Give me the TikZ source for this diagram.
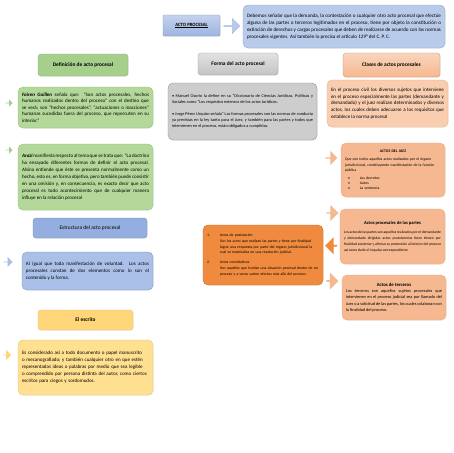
\documentclass[tikz,border=0pt]{standalone}
\usepackage{fontspec}
\setmainfont{Carlito}
\usepackage{tikz}
\usetikzlibrary{calc,shapes.arrows,shadows}

\hyphenpenalty=10000
\exhyphenpenalty=10000
\tolerance=9999
\emergencystretch=5pt

\definecolor{bluehead}{HTML}{9DB4E0}
\definecolor{bluebox}{HTML}{B8CBEA}
\definecolor{blueline}{HTML}{8EA8D8}
\definecolor{greenhead}{HTML}{A6CF8B}
\definecolor{greenbox}{HTML}{B3D89A}
\definecolor{greenline}{HTML}{93C074}
\definecolor{grayhead}{HTML}{C4C4C4}
\definecolor{graybox}{HTML}{CDCDCD}
\definecolor{salhead}{HTML}{F5B890}
\definecolor{salbox}{HTML}{F9CDB0}
\definecolor{salline}{HTML}{F2A77A}
\definecolor{orbox}{HTML}{F08A3E}
\definecolor{strhead}{HTML}{93AEDF}
\definecolor{strbox}{HTML}{ABC0E8}
\definecolor{yelhead}{HTML}{FFD67A}
\definecolor{yelbox}{HTML}{FFDF90}

\begin{document}
\begin{tikzpicture}[x=1pt,y=-1pt,
	head/.style={rounded corners=3pt,draw=#1!80!black,line width=0.3pt,align=center,inner sep=1pt,font=\fontsize{5.4}{6.5}\selectfont\bfseries,drop shadow={opacity=0.15,shadow xshift=0.6pt,shadow yshift=-0.6pt}},
	txtbox/.style={rounded corners=5pt,line width=0.3pt,align=justify,inner sep=4pt,font=\fontsize{5}{6.6}\selectfont,drop shadow={opacity=0.15,shadow xshift=0.6pt,shadow yshift=-0.6pt}},
	blockarrow/.style={single arrow,single arrow head extend=2pt,inner sep=0pt,minimum height=#1,minimum width=9pt},
	blockarrow/.default=12pt]
	\useasboundingbox (0,0) rectangle (453,453);
	\fill[white] (0,0) rectangle (453,453);

	%acto procesal
	\node[head=bluehead,top color=bluehead!60,bottom color=bluehead,minimum width=57pt,minimum height=21pt,rounded corners=1pt,font=\fontsize{4.8}{6}\selectfont\bfseries] (acto) at (191.5,25.5) {\underline{ACTO PROCESAL}};
	\node[txtbox,fill=bluebox,draw=blueline,text width=194pt,minimum height=43pt,font=\fontsize{5.1}{6.8}\selectfont] (actotxt) at (344,26.5)
		{Debemos señalar que la demanda, la contestación o cualquier otro acto procesal que efectúe alguna de las partes o terceros legitimados en el proceso, tiene por objeto la constitución o extinción de derechos y cargas procesales que deben de realizarse de acuerdo con las normas procesales vigentes. Así también lo precisa el artículo 129° del C. P. C.};
	\node[blockarrow=16pt,fill=bluebox,draw=blueline,line width=0.3pt,minimum width=15pt] (actoarr) at ($(acto.east)!0.5!(actotxt.west)$) {};

	%definicion
	\node[head=greenhead,fill=greenhead,minimum width=90pt,minimum height=22pt] (def) at (83,65) {Definición de acto procesal};
	\node[txtbox,fill=greenbox,draw=greenline,text width=127pt,minimum height=41pt] (deftxt) at (85.5,107.5)
		{\textbf{\textit{Fairen Guillen}} señala que: ``Son actos procesales, hechos humanos realizados dentro del proceso'' con el destino que se verá; son ``hechos procesales'', ``actuaciones o inacciones'' humanas sucedidas fuera del proceso, que repercuten en su interior.''};
	\node[txtbox,fill=greenbox,draw=greenline,text width=127pt,minimum height=66pt,font=\fontsize{5}{7}\selectfont] (araztxt) at (85.5,177)
		{\textbf{\textit{Arazi}} manifiesta respecto al tema que se trata que: ``La doctrina ha ensayado diferentes formas de definir el acto procesal. Alsina entiende que éste se presenta normalmente como un hecho, esto es, en forma objetiva, pero también puede consistir en una omisión y, en consecuencia, es exacto decir que acto procesal es todo acontecimiento que de cualquier manera influye en la relación procesal};
	\node[blockarrow=7pt,fill=greenhead,minimum width=7pt] (defarr) at (9,103) {};
	\node[blockarrow=7pt,fill=greenhead,minimum width=7pt] (ararr) at (9,150) {};

	%forma
	\node[head=grayhead,top color=grayhead!50,bottom color=grayhead,minimum width=80pt,minimum height=22pt] (forma) at (238,64) {Forma del acto procesal};
	\node[txtbox,fill=graybox,draw=grayhead!70!black,text width=141pt,minimum height=57pt,font=\fontsize{4.3}{6}\selectfont] (formatxt) at (242.5,111.5)
		{\textbullet\ Manuel Osorio la define en su ``Diccionario de Ciencias Jurídicas, Políticas y Sociales como ``Los requisitos externos de los actos Jurídicos.\par\medskip
		\textbullet\ Jorge Pérez Urquizo señala'' Las formas procesales son las normas de conducta ya previstas en la ley tanto para el Juez, y también para las partes y todos que intervienen en el proceso, están obligados a cumplirlas.};

	%clases
	\node[head=salhead,top color=salhead!60,bottom color=salhead,minimum width=97pt,minimum height=24pt] (clases) at (391.5,65) {Clases de actos procesales};
	\node[txtbox,fill=salbox,draw=salline,text width=113pt,minimum height=47pt,font=\fontsize{5}{6.8}\selectfont] (clasestxt) at (387.5,103.5)
		{En el proceso civil los diversos sujetos que interviene en el proceso especialmente las partes (demandante y demandado) y el juez realizan determinados y diversos actos, los cuales deben adecuarse a los requisitos que establece la norma procesal};

	%actos del juez
	\node[txtbox,fill=salhead,draw=salline,text width=96pt,minimum height=54pt,font=\fontsize{3.8}{5.2}\selectfont,align=left] (juez) at (393,170)
		{\makebox[96pt]{\textbf{ACTOS DEL JUEZ}}\par\smallskip
		Que son todos aquellos actos realizados por el órgano jurisdiccional, constituyendo manifestación de la función pública\par\smallskip
		\hspace{3pt}\textbullet\hspace{10pt}Los decretos\par
		\hspace{3pt}\textbullet\hspace{10pt}Autos\par
		\hspace{3pt}\textbullet\hspace{10pt}La sentencia};
	\node[blockarrow=12pt,fill=salhead,minimum width=14pt] (juezarr) at (331,158) {};

	%actos de las partes
	\node[txtbox,fill=salhead,draw=salline,text width=97pt,minimum height=55pt,font=\fontsize{3.7}{6}\selectfont] (partes) at (392.5,236.5)
		{\makebox[97pt]{\fontsize{4.6}{5}\selectfont\textbf{Actos procesales de las partes}}\par\smallskip
		Los actos de las partes son aquellos realizados por el demandante y demandado dirigidos actos postulatorios tiene tienen por finalidad sustentar y afirmar su pretensión al interior del proceso así como darle el impulso correspondiente.};
	\node[blockarrow=12pt,fill=salhead,minimum width=16pt] (partesarr) at (332,213) {};

	%postulacion y constitutivos
	\node[txtbox,fill=orbox,draw=orbox!80!black,text width=112pt,minimum height=60pt,font=\fontsize{3.8}{5.6}\selectfont,align=left] (orng) at (263,255)
		{1.\hspace{10pt}Actos de postulación\par
		\hspace{13pt}\parbox[t]{99pt}{Son los actos que realizan las partes y tiene por finalidad lograr una respuesta por parte del órgano jurisdiccional la cual se materializa en una resolución judicial.}\par\medskip
		2.\hspace{10pt}Actos constitutivos\par
		\hspace{13pt}\parbox[t]{99pt}{Son aquellos que fundan una situación procesal dentro de un proceso y a veces surten efectos más allá del proceso.}};
	\node[blockarrow=12pt,fill=orbox,shape border rotate=180,minimum width=17pt] (orngarr) at ($(orng.east)!0.5!(partes.west)$) {};

	%actos de terceros
	\node[txtbox,fill=salhead,draw=salline,text width=96pt,minimum height=45pt,font=\fontsize{4.3}{6.2}\selectfont] (terc) at (394,297.5)
		{\makebox[96pt]{\fontsize{4.8}{5}\selectfont\textbf{Actos de terceros}}\par
		Los terceros son aquellos sujetos procesales que intervienen en el proceso judicial sea por llamado del Juez o a solicitud de las partes, los cuales colaboran con la finalidad del proceso.};
	\node[blockarrow=12pt,fill=salhead,minimum width=17pt] (tercarr) at (332,281) {};

	%estructura
	\node[head=strhead,fill=strhead,minimum width=114pt,minimum height=20pt,font=\fontsize{5.4}{6.5}\selectfont] (estr) at (90,228) {Estructura del acto procesal};
	\node[txtbox,fill=strbox,draw=strhead!80!black,text width=123pt,minimum height=38pt,font=\fontsize{5}{7}\selectfont] (estrtxt) at (87.5,271)
		{Al igual que toda manifestación de voluntad. Los actos procesales constan de dos elementos como lo son el contenido y la forma.};
	\node[blockarrow=9pt,fill=strbox,minimum width=10pt] (estrarr) at (8,262) {};

	%el escrito
	\node[head=yelhead,fill=yelhead,minimum width=95pt,minimum height=20pt,draw=yelhead!90!black] (escr) at (85.5,320) {El escrito};
	\node[txtbox,fill=yelbox,draw=yelhead!90!black,text width=127pt,minimum height=55pt,align=left,font=\fontsize{5}{7}\selectfont] (escrtxt) at (85.5,367.5)
		{Es considerado así a todo documento o papel manuscrito o mecanografiado; y también cualquier otro en que estén representadas ideas o palabras por medio que sea legible o comprendido por persona distinta del autor, como ciertos escritos para ciegos y sordomudos.};
	\node[blockarrow=8pt,fill=yelhead,minimum width=10pt] (escrarr) at (7,355) {};
\end{tikzpicture}
\end{document}
